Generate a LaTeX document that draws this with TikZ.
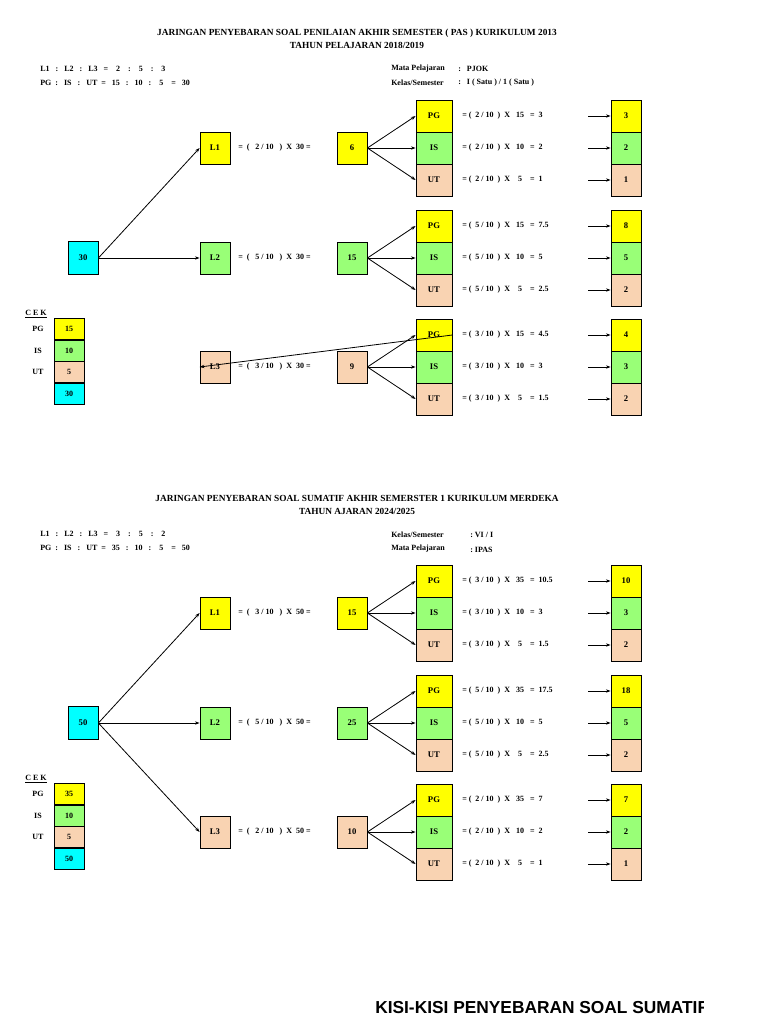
\documentclass[tikz,border=0pt]{standalone}
\usepackage{fontspec}
\setmainfont{Liberation Serif}
\newfontfamily\hsans{Liberation Sans}
\usetikzlibrary{arrows.meta}
\definecolor{cy}{HTML}{FFFF00}
\definecolor{cg}{HTML}{99FF77}
\definecolor{cp}{HTML}{F9D3B2}
\definecolor{cc}{HTML}{00FFFF}
\tikzset{
  bx/.style={draw=black,line width=0.6pt,minimum width=22.5pt,minimum height=24pt,inner sep=0pt,font=\bfseries\fontsize{6.5}{7}\selectfont},
  sb/.style={draw=black,line width=0.6pt,minimum width=27pt,minimum height=24pt,inner sep=0pt,font=\bfseries\fontsize{6.5}{7}\selectfont},
  cb/.style={draw=black,line width=0.5pt,minimum width=22.5pt,minimum height=16pt,inner sep=0pt,font=\bfseries\fontsize{6}{7}\selectfont},
  tx/.style={inner sep=0pt,font=\bfseries\fontsize{6}{7}\selectfont},
  ti/.style={inner sep=0pt,font=\bfseries\fontsize{7}{8}\selectfont},
  ar/.style={-{Stealth[length=3.5pt,width=2.5pt]},line width=0.6pt},
}
% #1 prefix, #2 yc, #3 label, #4 colour, #5 numerator, #6 mid value
\newcommand\grp[6]{
  \node[bx,fill=#4] (#1L) at (215,#2) {#3};
  \node[tx,anchor=west] (#1f) at (238,#2) {=\ \ (\ \ \ #5 / 10\ \ \ )\ \ X\ \ \TT\ =};
  \node[bx,fill=#4] (#1m) at (352,#2) {#6};
  \node[sb,fill=cy] (#1a) at (434,#2-32) {PG};
  \node[sb,fill=cg] (#1b) at (434,#2) {IS};
  \node[sb,fill=cp] (#1c) at (434,#2+32) {UT};
  \draw[ar] (\Root.east) -- (#1L.west);
  \draw[ar] (#1m.east) -- (#1a.west);
  \draw[ar] (#1m.east) -- (#1b.west);
  \draw[ar] (#1m.east) -- (#1c.west);
  \def\Num{#5}
}
% #1 prefix, #2 yc, #3 r1, #4 R1, #5 r2, #6 R2, #7 r3, #8 R3
\newcommand\res[8]{
  \node[tx,anchor=west] (#1fa) at (462,#2-32) {=\ (\ \ \Num\ / 10\ \ )\ \ X\ \ \ \TA\ \ \ =\ \ #3};
  \node[tx,anchor=west] (#1fb) at (462,#2) {=\ (\ \ \Num\ / 10\ \ )\ \ X\ \ \ \TB\ \ \ =\ \ #5};
  \node[tx,anchor=west] (#1fc) at (462,#2+32) {=\ (\ \ \Num\ / 10\ \ )\ \ X\ \ \ \ \TC\ \ \ \ =\ \ #7};
  \node[bx,fill=cy] (#1ra) at (626,#2-32) {#4};
  \node[bx,fill=cg] (#1rb) at (626,#2) {#6};
  \node[bx,fill=cp] (#1rc) at (626,#2+32) {#8};
  \coordinate (#1sa) at (588,#2-32);
  \coordinate (#1sb) at (588,#2);
  \coordinate (#1sc) at (588,#2+32);
  \draw[ar] (#1sa) -- (#1ra.west);
  \draw[ar] (#1sb) -- (#1rb.west);
  \draw[ar] (#1sc) -- (#1rc.west);
}
% #1 prefix #2 yoff #3 PG #4 IS #5 UT #6 total
\newcommand\cek[6]{
  \node[tx,anchor=west] (#1ck) at (25,314+#2) {\underline{C E K}};
  \node[tx] (#1k1) at (38,329+#2) {PG};
  \node[tx] (#1k2) at (38,351+#2) {IS};
  \node[tx] (#1k3) at (38,372+#2) {UT};
  \node[cb,fill=cy] (#1c1) at (69,329+#2) {#3};
  \node[cb,fill=cg] (#1c2) at (69,351+#2) {#4};
  \node[cb,fill=cp] (#1c3) at (69,372+#2) {#5};
  \node[cb,fill=cc] (#1c4) at (69,394+#2) {#6};
}
\begin{document}
\begin{tikzpicture}[x=0.75pt,y=-0.75pt]
\useasboundingbox (0,0) rectangle (768,1024);
\fill[white] (0,0) rectangle (768,1024);
% ---------- Section 1
\node[ti] (t1) at (357,33) {JARINGAN PENYEBARAN SOAL PENILAIAN AKHIR SEMESTER ( PAS ) KURIKULUM 2013};
\node[ti] (t2) at (357,45) {TAHUN PELAJARAN 2018/2019};
\node[tx,anchor=west] (h1) at (40,69) {L1\ \ \ :\ \ \ L2\ \ \ :\ \ \ L3\ \ \ =\ \ \ \ 2\ \ \ \ :\ \ \ \ 5\ \ \ \ :\ \ \ \ 3};
\node[tx,anchor=west] (h2) at (40,83) {PG\ \ :\ \ \ IS\ \ \ :\ \ \ UT\ \ =\ \ \ 15\ \ \ :\ \ \ 10\ \ \ :\ \ \ \ 5\ \ \ \ =\ \ \ 30};
\node[tx,anchor=west] (h3) at (391,69) {Mata Pelajaran};
\node[tx,anchor=west] (h4) at (391,83) {Kelas/Semester};
\node[tx,anchor=west] (h5) at (458,69) {:\ \ \ PJOK};
\node[tx,anchor=west] (h6) at (458,83) {:\ \ \ I ( Satu ) / 1 ( Satu )};
\node[bx,fill=cc,minimum height=25pt] (ra) at (83,258) {30};
\def\Root{ra}\def\TA{15}\def\TB{10}\def\TC{5}\def\TT{30}
\grp{p}{148}{L1}{cy}{2}{6}\res{p}{148}{3}{3}{2}{2}{1}{1}
\grp{q}{258}{L2}{cg}{5}{15}\res{q}{258}{7.5}{8}{5}{5}{2.5}{2}
\grp{r}{367}{L3}{cp}{3}{9}\res{r}{367}{4.5}{4}{3}{3}{1.5}{2}
\cek{a}{0}{15}{10}{5}{30}
% ---------- Section 2
\node[ti] (u1) at (357,498) {JARINGAN PENYEBARAN SOAL SUMATIF AKHIR SEMERSTER 1 KURIKULUM MERDEKA};
\node[ti] (u2) at (357,511) {TAHUN AJARAN 2024/2025};
\node[tx,anchor=west] (g1) at (40,534) {L1\ \ \ :\ \ \ L2\ \ \ :\ \ \ L3\ \ \ =\ \ \ \ 3\ \ \ \ :\ \ \ \ 5\ \ \ \ :\ \ \ \ 2};
\node[tx,anchor=west] (g2) at (40,548) {PG\ \ :\ \ \ IS\ \ \ :\ \ \ UT\ \ =\ \ \ 35\ \ \ :\ \ \ 10\ \ \ :\ \ \ \ 5\ \ \ \ =\ \ \ 50};
\node[tx,anchor=west] (g3) at (391,535) {Kelas/Semester};
\node[tx,anchor=west] (g4) at (391,549) {Mata Pelajaran};
\node[tx,anchor=west] (g5) at (470,535) {:\ VI / I};
\node[tx,anchor=west] (g6) at (470,550) {:\ IPAS};
\node[bx,fill=cc,minimum height=25pt] (rb) at (83,723) {50};
\def\Root{rb}\def\TA{35}\def\TB{10}\def\TC{5}\def\TT{50}
\grp{s}{613}{L1}{cy}{3}{15}\res{s}{613}{10.5}{10}{3}{3}{1.5}{2}
\grp{t}{723}{L2}{cg}{5}{25}\res{t}{723}{17.5}{18}{5}{5}{2.5}{2}
\grp{v}{832}{L3}{cp}{2}{10}\res{v}{832}{7}{7}{2}{2}{1}{1}
\cek{b}{465}{35}{10}{5}{50}
% ---------- bottom cut-off heading
\begin{scope}
\clip (0,990) rectangle (703,1024);
\node[inner sep=0pt,anchor=west,font=\hsans\bfseries\fontsize{13}{14}\selectfont] (kk) at (375,1008) {KISI-KISI PENYEBARAN SOAL SUMATIF};
\end{scope}
\end{tikzpicture}
\end{document}
